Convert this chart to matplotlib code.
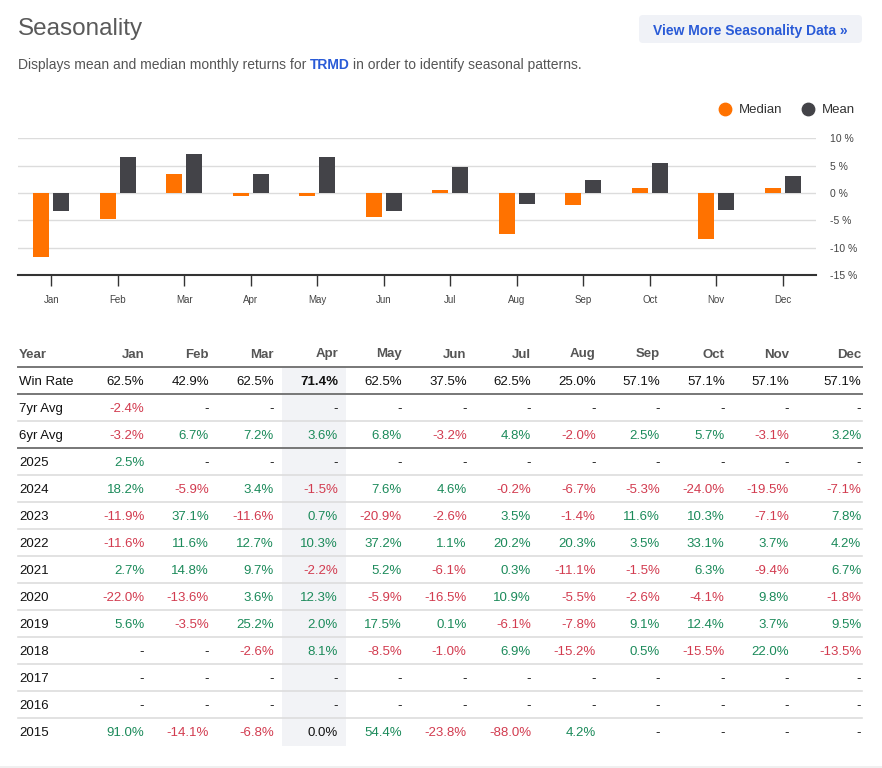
import matplotlib
matplotlib.use("Agg")
import matplotlib.pyplot as plt
from matplotlib.patches import FancyBboxPatch, Rectangle
import numpy as np

plt.rcParams['font.family'] = ['Liberation Sans', 'DejaVu Sans']

# ---------------- data ----------------
months = ["Jan", "Feb", "Mar", "Apr", "May", "Jun", "Jul", "Aug", "Sep", "Oct", "Nov", "Dec"]
median_vals = [-11.7, -4.75, 3.4, -0.55, -0.55, -4.4, 0.5, -7.4, -2.25, 1.0, -8.3, 1.0]
mean_vals = [-3.3, 6.6, 7.1, 3.5, 6.6, -3.3, 4.7, -2.0, 2.4, 5.5, -3.1, 3.1]
y_ticks = [-15, -10, -5, 0, 5, 10]
y_tick_labels = ["-15 %", "-10 %", "-5 %", "0 %", "5 %", "10 %"]

row_labels = ["Win Rate", "7yr Avg", "6yr Avg", "2025", "2024", "2023", "2022", "2021",
              "2020", "2019", "2018", "2017", "2016", "2015"]
win_rate = ["62.5%", "42.9%", "62.5%", "71.4%", "62.5%", "37.5%", "62.5%", "25.0%", "57.1%", "57.1%", "57.1%", "57.1%"]
avg_7yr = ["-2.4%", "-", "-", "-", "-", "-", "-", "-", "-", "-", "-", "-"]
avg_6yr = ["-3.2%", "6.7%", "7.2%", "3.6%", "6.8%", "-3.2%", "4.8%", "-2.0%", "2.5%", "5.7%", "-3.1%", "3.2%"]
y2025 = ["2.5%", "-", "-", "-", "-", "-", "-", "-", "-", "-", "-", "-"]
y2024 = ["18.2%", "-5.9%", "3.4%", "-1.5%", "7.6%", "4.6%", "-0.2%", "-6.7%", "-5.3%", "-24.0%", "-19.5%", "-7.1%"]
y2023 = ["-11.9%", "37.1%", "-11.6%", "0.7%", "-20.9%", "-2.6%", "3.5%", "-1.4%", "11.6%", "10.3%", "-7.1%", "7.8%"]
y2022 = ["-11.6%", "11.6%", "12.7%", "10.3%", "37.2%", "1.1%", "20.2%", "20.3%", "3.5%", "33.1%", "3.7%", "4.2%"]
y2021 = ["2.7%", "14.8%", "9.7%", "-2.2%", "5.2%", "-6.1%", "0.3%", "-11.1%", "-1.5%", "6.3%", "-9.4%", "6.7%"]
y2020 = ["-22.0%", "-13.6%", "3.6%", "12.3%", "-5.9%", "-16.5%", "10.9%", "-5.5%", "-2.6%", "-4.1%", "9.8%", "-1.8%"]
y2019 = ["5.6%", "-3.5%", "25.2%", "2.0%", "17.5%", "0.1%", "-6.1%", "-7.8%", "9.1%", "12.4%", "3.7%", "9.5%"]
y2018 = ["-", "-", "-2.6%", "8.1%", "-8.5%", "-1.0%", "6.9%", "-15.2%", "0.5%", "-15.5%", "22.0%", "-13.5%"]
y2017 = ["-", "-", "-", "-", "-", "-", "-", "-", "-", "-", "-", "-"]
y2016 = ["-", "-", "-", "-", "-", "-", "-", "-", "-", "-", "-", "-"]
y2015 = ["91.0%", "-14.1%", "-6.8%", "0.0%", "54.4%", "-23.8%", "-88.0%", "4.2%", "-", "-", "-", "-"]
table_rows = [win_rate, avg_7yr, avg_6yr, y2025, y2024, y2023, y2022, y2021,
              y2020, y2019, y2018, y2017, y2016, y2015]

# ---------------- style ----------------
ORANGE = "#ff7200"
DARK = "#434348"
GREEN = "#1b8a5a"
RED = "#d23b4f"
HEAD = "#555555"
GRID = "#dcdcdc"

W, H = 882, 768
fig = plt.figure(figsize=(W / 100, H / 100), dpi=100)
fig.patch.set_facecolor("white")

# overlay axes in pixel coordinates
ov = fig.add_axes([0, 0, 1, 1])
ov.set_xlim(0, W)
ov.set_ylim(H, 0)
ov.axis("off")

# header
ov.text(18, 29.5, "Seasonality", fontsize=17.5, color="#5a5a5a", va="center", ha="left")
ov.add_patch(FancyBboxPatch((639, 15), 223, 28, boxstyle="round,pad=0,rounding_size=4",
                            facecolor="#f0f2f7", edgecolor="none"))
ov.text(750.5, 30.5, "View More Seasonality Data »", fontsize=10, fontweight="bold",
        color="#2a5bd7", ha="center", va="center")
t1 = ov.text(18, 65, "Displays mean and median monthly returns for ", fontsize=10,
             color="#555555", ha="left", va="center")
fig.canvas.draw()
bb = t1.get_window_extent()
x_px = bb.x1
t2 = ov.text(x_px, 65, "TRMD", fontsize=10, fontweight="bold", color="#2a5bd7",
             ha="left", va="center")
fig.canvas.draw()
bb2 = t2.get_window_extent()
ov.text(bb2.x1 + 3, 65, "in order to identify seasonal patterns.", fontsize=10,
        color="#555555", ha="left", va="center")

# legend
ov.scatter([725], [109], s=80, color=ORANGE, zorder=5)
ov.text(739, 110, "Median", fontsize=9.5, color="#333333", va="center", ha="left")
ov.scatter([808], [109], s=80, color=DARK, zorder=5)
ov.text(822, 110, "Mean", fontsize=9.5, color="#333333", va="center", ha="left")

# ---------------- bar chart ----------------
left, right, top, bottom = 18, 816, 138.3, 275.3
ax = fig.add_axes([left / W, 1 - bottom / H, (right - left) / W, (bottom - top) / H])
x = np.arange(len(months))
bw = 0.24
ax.bar(x - 0.15, median_vals, width=bw, color=ORANGE, zorder=3)
ax.bar(x + 0.15, mean_vals, width=bw, color=DARK, zorder=3)
ax.set_xlim(-0.5, len(months) - 0.5)
ax.set_ylim(-15, 10)
ax.set_yticks(y_ticks)
ax.set_yticklabels(y_tick_labels)
ax.yaxis.tick_right()
ax.tick_params(axis="y", length=0, pad=10, labelsize=7.5, labelcolor="#444444")
for yv in y_ticks[1:]:
    ax.axhline(yv, color=GRID, lw=1, zorder=1)
ax.set_xticks(x)
ax.set_xticklabels(months)
ax.tick_params(axis="x", length=8, width=1, color="#333333", pad=6, labelsize=7,
               labelcolor="#444444")
for s in ["top", "left", "right"]:
    ax.spines[s].set_visible(False)
ax.spines["bottom"].set_color("#333333")
ax.spines["bottom"].set_linewidth(1.5)

# ---------------- table ----------------
col_right = [144.3, 209, 273.7, 338, 402, 466.7, 531, 595.7, 660, 724.7, 789, 861.3]
header_y = 354.5
row_y0 = 382.2
row_h = 27.0
tx0, tx1 = 18, 862

# Apr highlight
ov.add_patch(Rectangle((282, 367.5), 64, 378, facecolor="#f2f3f6", edgecolor="none", zorder=0))

ov.text(19, header_y, "Year", fontsize=9.5, fontweight="bold", color=HEAD, ha="left", va="center")
for m, xr in zip(months, col_right):
    ov.text(xr, header_y, m, fontsize=9.5, fontweight="bold", color=HEAD, ha="right", va="center")

best_idx = int(np.argmax([float(v.strip("%")) for v in win_rate]))

for i, (lab, vals) in enumerate(zip(row_labels, table_rows)):
    yc = row_y0 + i * row_h
    ov.text(19, yc, lab, fontsize=9.5, color="#111111", ha="left", va="center")
    for j, (v, xr) in enumerate(zip(vals, col_right)):
        weight = "normal"
        if i == 0:
            col = "#111111"
            if j == best_idx:
                weight = "bold"
        elif v == "-":
            col = "#111111"
        else:
            fv = float(v.strip("%"))
            col = GREEN if fv > 0 else (RED if fv < 0 else "#111111")
        ov.text(xr, yc, v, fontsize=9.5, color=col, ha="right", va="center", fontweight=weight)

# separators
ov.plot([tx0, tx1], [367.3, 367.3], color="#777777", lw=1.4)
ov.plot([tx0, tx1], [394.3, 394.3], color="#777777", lw=1.4)
ov.plot([tx0, tx1], [421.2, 421.2], color="#dddddd", lw=1.2)
ov.plot([tx0, tx1], [448.2, 448.2], color="#777777", lw=1.4)
for k in range(4, len(row_labels)):
    yl = row_y0 - 1.5 + (k - 0.5) * row_h
    ov.plot([tx0, tx1], [yl, yl], color="#dddddd", lw=1.2)

# bottom band
ov.add_patch(Rectangle((0, 765.5), W, 3, facecolor="#f0f0f0", edgecolor="none"))

fig.savefig("out.png", dpi=100, facecolor="white")
